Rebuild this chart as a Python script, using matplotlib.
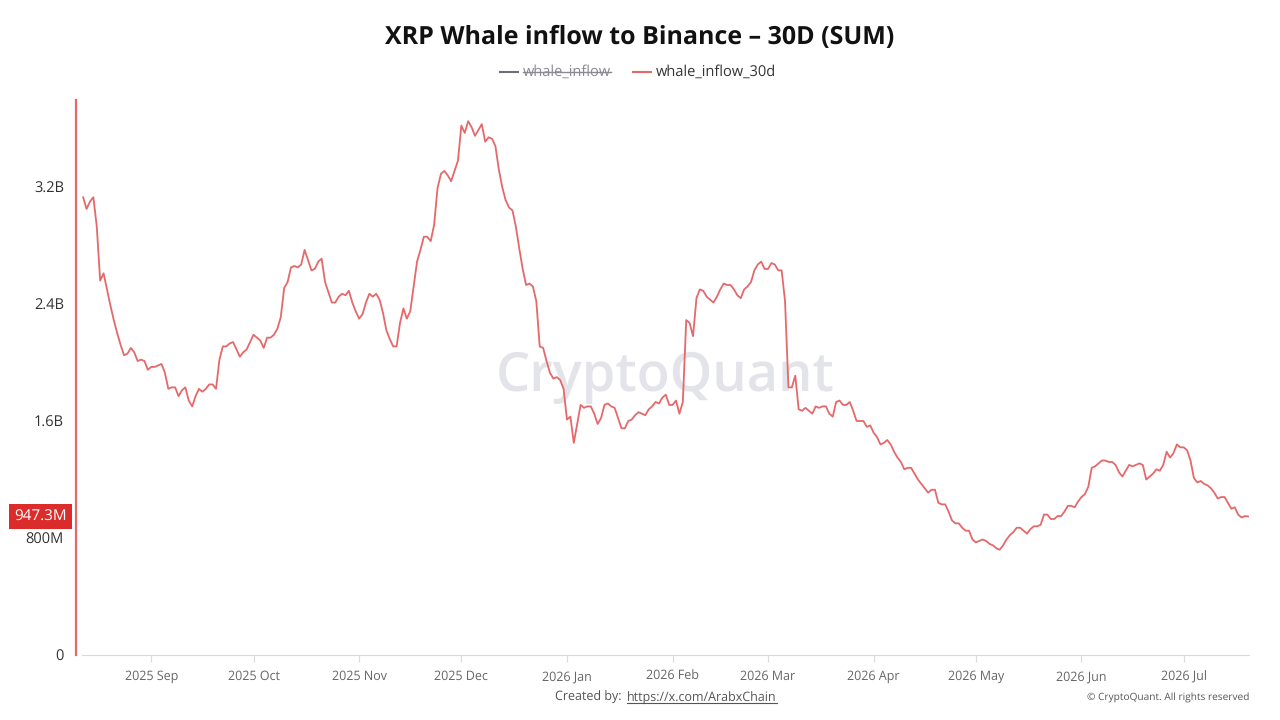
import numpy as np
import pandas as pd
import matplotlib
matplotlib.use('Agg')
import matplotlib.pyplot as plt
import matplotlib.dates as mdates
from matplotlib.lines import Line2D

plt.rcParams['font.family'] = ['Open Sans', 'DejaVu Sans']
plt.rcParams['text.hinting'] = 'no_hinting'

title = 'XRP Whale inflow to Binance \u2013 30D (SUM)'
start_date = '2025-08-12'

# whale_inflow_30d, daily, in billions XRP
inflow_30d = [
    3.13, 3.05, 3.10, 3.13, 2.93, 2.56, 2.61, 2.50, 2.39, 2.29,
    2.20, 2.12, 2.05, 2.06, 2.10, 2.07, 2.01, 2.02, 2.01, 1.95,
    1.97, 1.97, 1.98, 1.99, 1.93, 1.82, 1.83, 1.83, 1.77,
    1.81, 1.83, 1.74, 1.70, 1.77, 1.82, 1.80, 1.82, 1.85, 1.85,
    1.82, 2.02, 2.11, 2.11, 2.13, 2.14, 2.09, 2.04, 2.07, 2.09,
    2.14, 2.19, 2.17, 2.15, 2.10, 2.17, 2.17, 2.19, 2.23, 2.31,
    2.51, 2.55, 2.65, 2.66, 2.65, 2.67, 2.77, 2.70, 2.63, 2.64,
    2.69,
    # Oct - Dec
    2.71, 2.55, 2.48, 2.41, 2.41, 2.45, 2.47, 2.46, 2.49,
    2.41, 2.35, 2.30, 2.33, 2.41, 2.47, 2.45, 2.47, 2.43, 2.34,
    2.22, 2.16, 2.11, 2.11, 2.27, 2.37, 2.30, 2.35, 2.52, 2.69,
    2.77, 2.86, 2.86, 2.83, 2.94, 3.19, 3.29, 3.31, 3.28,
    3.24, 3.31, 3.38, 3.62, 3.57, 3.65, 3.61, 3.55, 3.59, 3.63,
    3.51, 3.54, 3.53, 3.48, 3.32, 3.20, 3.11, 3.06, 3.04, 2.93,
    2.78, 2.64, 2.53, 2.54, 2.52, 2.42, 2.11, 2.10, 2.01, 1.93,
    1.89, 1.90,
    # Dec - Mar
    1.88, 1.82, 1.61, 1.63, 1.45, 1.58, 1.71, 1.69, 1.70, 1.70,
    1.65, 1.58, 1.62, 1.71, 1.72, 1.70, 1.69, 1.62, 1.55, 1.55,
    1.60, 1.61, 1.64, 1.66, 1.65, 1.64, 1.68, 1.70, 1.73, 1.72,
    1.76, 1.78, 1.71, 1.71, 1.74, 1.65, 1.73, 2.29, 2.27, 2.18,
    2.44, 2.50, 2.49, 2.45, 2.43, 2.41, 2.45, 2.50, 2.54, 2.53,
    2.53, 2.50, 2.46, 2.44, 2.50, 2.52, 2.55, 2.63, 2.67, 2.69,
    2.64, 2.64, 2.68, 2.67, 2.63, 2.63, 2.42, 1.83, 1.83, 1.91,
    # Mar - Jun
    1.68, 1.67, 1.69, 1.67, 1.65, 1.70, 1.69, 1.70, 1.70,
    1.65, 1.63, 1.73, 1.74, 1.71, 1.71, 1.73, 1.67, 1.60, 1.60,
    1.60, 1.56, 1.57, 1.52, 1.49, 1.44, 1.45, 1.47, 1.44, 1.39,
    1.35, 1.32, 1.27, 1.28, 1.28, 1.24, 1.20, 1.17, 1.14, 1.11,
    1.13, 1.13, 1.04, 1.03, 1.03, 0.98, 0.92, 0.90, 0.90, 0.87,
    0.85, 0.85, 0.79, 0.77, 0.78, 0.79, 0.78, 0.76, 0.75, 0.73,
    0.72, 0.75, 0.79, 0.82, 0.84, 0.87, 0.87, 0.85, 0.83, 0.86,
    0.88, 0.88,
    # Jun - Jul
    0.89, 0.96, 0.96, 0.93, 0.93, 0.95, 0.95, 0.98, 1.02, 1.02,
    1.01, 1.05, 1.08, 1.10, 1.15, 1.28, 1.29, 1.31, 1.33, 1.33,
    1.32, 1.32, 1.30, 1.25, 1.22, 1.26, 1.30, 1.29, 1.30, 1.31,
    1.30, 1.20, 1.22, 1.24, 1.27, 1.26, 1.30, 1.39, 1.35, 1.38,
    1.44, 1.42, 1.42, 1.40, 1.33, 1.21, 1.18, 1.19, 1.17, 1.16,
    1.14, 1.11, 1.07, 1.08, 1.08, 1.04, 1.00, 1.01, 0.96, 0.94,
    0.95, 0.9473,
]

y_ticks = [0, 0.8e9, 1.6e9, 2.4e9, 3.2e9]
y_tick_labels = ['0', '800M', '1.6B', '2.4B', '3.2B']

red = '#e5686a'
dates = pd.date_range(start_date, periods=len(inflow_30d), freq='D')
vals = np.array(inflow_30d) * 1e9

fig = plt.figure(figsize=(12.8, 7.2), dpi=100)
ax = fig.add_axes([82 / 1280, 65 / 720, 1167 / 1280, 555 / 720])

ax.text(0.5, 0.5, 'CryptoQuant', transform=ax.transAxes, ha='center', va='center',
        fontsize=39, color='#e3e3ea', zorder=0, fontweight='semibold')
ax.plot(dates, vals, color=red, lw=1.3, zorder=3)

ax.set_xlim(dates[0] - pd.Timedelta(hours=8), dates[-1] + pd.Timedelta(hours=4))
ax.set_ylim(0, 3.795e9)
ax.set_yticks(y_ticks)
ax.set_yticklabels(y_tick_labels)
ax.xaxis.set_major_locator(mdates.MonthLocator())
ax.xaxis.set_major_formatter(mdates.DateFormatter('%Y %b'))

for s in ['top', 'right']:
    ax.spines[s].set_visible(False)
ax.spines['bottom'].set_color('#d9d9e0')
ax.spines['left'].set_color(red)
ax.spines['left'].set_linewidth(1.6)
ax.spines['left'].set_position(('outward', 4))
ax.tick_params(axis='y', length=0, pad=9, labelsize=10.5, labelcolor='#333333')
ax.tick_params(axis='x', length=5, width=0.8, color='#d9d9e0', pad=6,
               labelsize=9, labelcolor='#666666')

# last value badge
last = vals[-1]
ax.text(-0.013, last, f'{last / 1e6:.1f}M', transform=ax.get_yaxis_transform(),
        ha='right', va='center', fontsize=11, color='white',
        bbox=dict(boxstyle='square,pad=0.35', fc='#dc2b2b', ec='none'), zorder=5)

fig.text(0.5, 1 - 38 / 720, title, ha='center', va='center', fontsize=18,
         fontweight='bold', color='#111111')

# legend
ly = 1 - 72 / 720
fig.add_artist(Line2D([500 / 1280, 518 / 1280], [ly, ly], color='#6e6e78', lw=1.5))
t1 = fig.text(523 / 1280, ly, 'whale_inflow', ha='left', va='center',
              fontsize=10.5, color='#8a8a94')
fig.add_artist(Line2D([633 / 1280, 651 / 1280], [ly, ly], color=red, lw=1.5))
fig.text(656 / 1280, ly, 'whale_inflow_30d', ha='left', va='center',
         fontsize=10.5, color='#333333')

# footer
fy = 1 - 698 / 720
t2 = fig.text(627 / 1280, fy, 'https://x.com/ArabxChain', ha='left', va='center',
              fontsize=9, color='#555555')
fig.text(625 / 1280, fy, 'Created by: ', ha='right', va='center', fontsize=9,
         color='#555555')
fig.text(1249 / 1280, fy, '\u00a9 CryptoQuant. All rights reserved', ha='right',
         va='center', fontsize=7.3, color='#555555')

fig.canvas.draw()
r = fig.canvas.get_renderer()
inv = fig.transFigure.inverted()
b = t1.get_window_extent(r).transformed(inv)
mid = (b.y0 + b.y1) / 2
fig.add_artist(Line2D([b.x0, b.x1], [mid, mid], color='#8a8a94', lw=1))
b = t2.get_window_extent(r).transformed(inv)
fig.add_artist(Line2D([b.x0, b.x1], [b.y0 + 0.002, b.y0 + 0.002], color='#555555', lw=0.8))

fig.savefig('out.png', dpi=100, facecolor='white')
